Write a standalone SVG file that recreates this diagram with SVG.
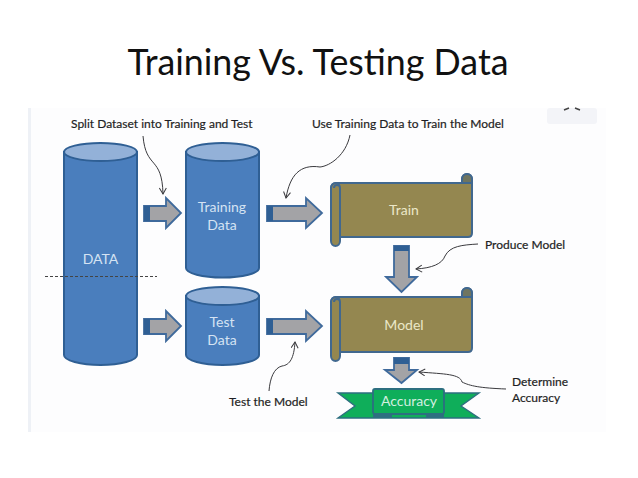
<svg xmlns="http://www.w3.org/2000/svg" width="638" height="478" viewBox="0 0 638 478">
<style>
text{font-family:"Lato","Liberation Sans",sans-serif}
.t{font-size:12px;fill:#1f1f24;stroke:#1f1f24;stroke-width:.2}
.w{font-size:14px;fill:#d5e3f3;text-anchor:middle}
.s{font-size:14px;fill:#ebe7c8;text-anchor:middle}
.cyl{fill:#4a7ebd;stroke:#2f5f94;stroke-width:2}
.top{fill:#93b1d8;stroke:#2f5f94;stroke-width:2}
.arr{fill:#a3a3a6;stroke:#3f6a9c;stroke-width:1.800}
.dk{fill:#2f5f94}
.scr{fill:#948750;stroke:#41688f;stroke-width:2;stroke-linejoin:round}
.cur{fill:#6f7560;stroke:#41688f;stroke-width:2}
.c{fill:none;stroke:#3a3a3e;stroke-width:1}
</style>
<defs>
<marker id="h" markerWidth="9" markerHeight="9" refX="7" refY="4" orient="auto" markerUnits="userSpaceOnUse"><path d="M1,0.500L7,4L1,7.500" fill="none" stroke="#3a3a3e" stroke-width="1"/></marker>
</defs>
<rect width="638" height="478" fill="#fff"/>
<rect x="28" y="108" width="578" height="324" fill="#fdfdfe"/>
<rect x="28" y="108" width="3" height="324" fill="#eef1f6"/>
<rect x="547" y="108" width="50" height="16" rx="3" fill="#f3f4f8"/>
<path d="M564,110L569,108M580,110L575,108" stroke="#444" stroke-width="1.500"/>
<text id="title" x="318" y="75" font-size="35.800" text-anchor="middle" fill="#111">Training Vs. Testing Data</text>

<g id="data"><path class="cyl" d="M64,152V355A36.500,10 0 0 0 137,355V152Z"/><ellipse class="top" cx="100.500" cy="152" rx="36.500" ry="9"/><text class="w" x="100.500" y="264">DATA</text></g>
<g id="training"><path class="cyl" d="M186,152V268A36.500,9.500 0 0 0 259,268V152Z"/><ellipse class="top" cx="222.500" cy="152" rx="36.500" ry="9"/><text class="w" x="222" y="212">Training</text><text class="w" x="222" y="230">Data</text></g>
<g id="test"><path class="cyl" d="M186,296V355A36.500,10 0 0 0 259,355V296Z"/><ellipse class="top" cx="222.500" cy="296" rx="36.500" ry="9"/><text class="w" x="222" y="327">Test</text><text class="w" x="222" y="345">Data</text></g>

<g id="train">
<path class="scr" d="M336,183H462V179A5,5 0 0 1 472,179V233Q472,237 468,237H340V241A4.500,5 0 0 1 331,241V188A5,5 0 0 1 336,183Z"/>
<path class="cur" d="M462,183V179A5,5 0 0 1 472,179V183Z"/>
<path class="scr" style="fill:none" d="M340,237V188A4.500,5 0 0 0 331,188M334,188A3,3 0 0 1 340,188"/>
<text class="s" x="404" y="215">Train</text></g>
<g id="model">
<path class="scr" d="M336,297H462V293A5,5 0 0 1 472,293V348Q472,352 468,352H340V356A4.500,5 0 0 1 331,356V302A5,5 0 0 1 336,297Z"/>
<path class="cur" d="M462,297V293A5,5 0 0 1 472,293V297Z"/>
<path class="scr" style="fill:none" d="M340,352V302A4.500,5 0 0 0 331,302M334,302A3,3 0 0 1 340,302"/>
<text class="s" x="404" y="330">Model</text></g>
<g id="accuracy">
<path d="M338,393H479L461,406L479,418H338L355,406Z" fill="#0fae5a" stroke="#2d6f80" stroke-width="1.400"/>
<rect x="373" y="413" width="19" height="5" fill="#2d6f80"/><rect x="426" y="413" width="18" height="5" fill="#2d6f80"/>
<rect x="373" y="389" width="71" height="25" rx="2" fill="#0fae5a" stroke="#2d6f80" stroke-width="1.800"/>
<text x="409" y="406" font-size="14" text-anchor="middle" fill="#d3efe0">Accuracy</text></g>

<g id="connectors">
<g id="a1"><path class="arr" d="M144,206H166V198L181,213L166,228V221H144Z"/><rect class="dk" x="144" y="206" width="6" height="15"/></g>
<g id="a2"><path class="arr" d="M267,206H306V198L322,213L306,228V221H267Z"/><rect class="dk" x="267" y="206" width="6" height="15"/></g>
<g id="a3"><path class="arr" d="M144,319H166V311L181,326L166,341V334H144Z"/><rect class="dk" x="144" y="319" width="6" height="15"/></g>
<g id="a4"><path class="arr" d="M267,319H306V311L322,326L306,341V334H267Z"/><rect class="dk" x="267" y="319" width="6" height="15"/></g>
<g id="a5"><path class="arr" d="M394,246H409V277H417L401.500,292L386,277H394Z"/><rect class="dk" x="394" y="246" width="15" height="5"/></g>
<g id="a6"><path class="arr" d="M394,358H409V370H417L401.500,383L385,370H394Z"/><rect class="dk" x="394" y="358" width="15" height="6"/></g>
<path class="c" marker-end="url(#h)" d="M143,136C146,170 162,155 163,194"/>
<path class="c" marker-end="url(#h)" d="M350,135C346,155 330,166 320,167C300,164 290,175 286,198"/>
<path class="c" marker-end="url(#h)" d="M269,391C270,378 274,368 282,366C290,365 294,358 295,342"/>
<path class="c" marker-end="url(#h)" d="M478,244C462,245 450,246 445,256C442,264 432,268 416,269"/>
<path class="c" marker-end="url(#h)" d="M506,389C480,388 470,386 462,382C460,374 445,374 419,372"/>
<path id="split" d="M45,276.500H157" fill="none" stroke="#444" stroke-width="1" stroke-dasharray="3 2"/>
</g>

<g id="labels">
<text class="t" x="71" y="128">Split Dataset into Training and Test</text>
<text class="t" x="312" y="128">Use Training Data to Train the Model</text>
<text class="t" x="485" y="249">Produce Model</text>
<text class="t" x="229" y="406">Test the Model</text>
<text class="t" x="512" y="386">Determine</text>
<text class="t" x="512" y="402">Accuracy</text>
</g>
</svg>
